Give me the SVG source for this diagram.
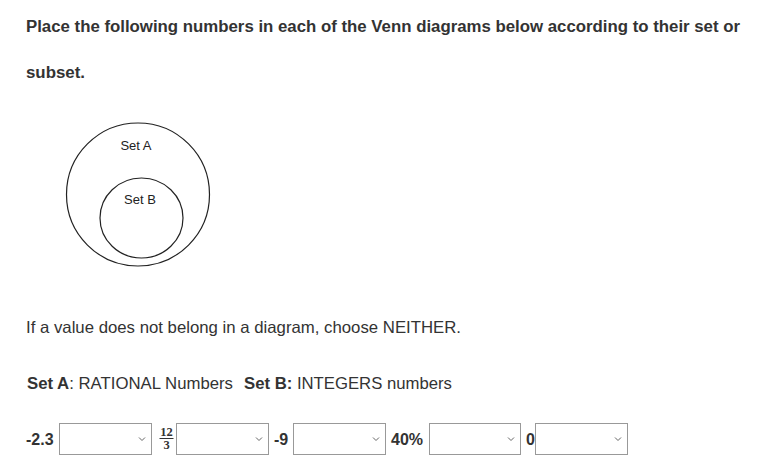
<svg xmlns="http://www.w3.org/2000/svg" width="765" height="465" viewBox="0 0 765 465">
<style>
.t{font-family:"Liberation Sans",Arial,sans-serif;fill:#333}
.b{font-weight:bold}
.c{fill:none;stroke:#222;stroke-width:1.2}
.box{fill:#fff;stroke:#999;stroke-width:1}
.chev{fill:none;stroke:#666;stroke-width:1}
.lbl{font-family:"Liberation Sans",Arial,sans-serif;font-size:13px;fill:#222}
.fr{font-family:"Liberation Serif",serif;font-weight:bold;font-size:12.5px;fill:#333}
</style>
<rect width="765" height="465" fill="#fff"/>
<text class="t b" x="26" y="32" font-size="16" textLength="714" lengthAdjust="spacingAndGlyphs">Place the following numbers in each of the Venn diagrams below according to their set or</text>
<text class="t b" x="26" y="78" font-size="16" textLength="59" lengthAdjust="spacingAndGlyphs">subset.</text>
<g id="setA">
<circle class="c" cx="138" cy="194.5" r="71.5"/>
<text class="lbl" x="136" y="150" text-anchor="middle">Set A</text>
</g>
<g id="setB">
<ellipse class="c" cx="141.5" cy="218" rx="41.5" ry="40"/>
<text class="lbl" x="140" y="204" text-anchor="middle">Set B</text>
</g>
<g id="connectors"></g>
<text class="t" x="26" y="333" font-size="16.5" textLength="435" lengthAdjust="spacingAndGlyphs">If a value does not belong in a diagram, choose NEITHER.</text>
<text class="t" x="27" y="389" font-size="16.5" textLength="206" lengthAdjust="spacingAndGlyphs"><tspan class="b">Set A</tspan>: RATIONAL Numbers</text>
<text class="t" x="244" y="389" font-size="16.5" textLength="208" lengthAdjust="spacingAndGlyphs"><tspan class="b">Set B:</tspan> INTEGERS numbers</text>
<g id="row">
<text class="t b" x="26" y="445" font-size="16">-2.3</text>
<rect class="box" x="59.5" y="423.5" width="92" height="31"/>
<path class="chev" d="M139 437.5 l3 3 l3 -3"/>
<text class="fr" x="166.5" y="436" text-anchor="middle">12</text>
<line x1="159.5" y1="438.5" x2="173.5" y2="438.5" stroke="#333" stroke-width="1"/>
<text class="fr" x="166.5" y="449" text-anchor="middle">3</text>
<rect class="box" x="176.5" y="423.5" width="92" height="31"/>
<path class="chev" d="M256 437.5 l3 3 l3 -3"/>
<text class="t b" x="274" y="445" font-size="16">-9</text>
<rect class="box" x="293.5" y="423.5" width="92" height="31"/>
<path class="chev" d="M373 437.5 l3 3 l3 -3"/>
<text class="t b" x="391" y="445" font-size="16">40%</text>
<rect class="box" x="429.5" y="423.5" width="91" height="31"/>
<path class="chev" d="M508 437.5 l3 3 l3 -3"/>
<text class="t b" x="526" y="445" font-size="16">0</text>
<rect class="box" x="535.5" y="423.5" width="92" height="31"/>
<path class="chev" d="M615 437.5 l3 3 l3 -3"/>
</g>
</svg>
